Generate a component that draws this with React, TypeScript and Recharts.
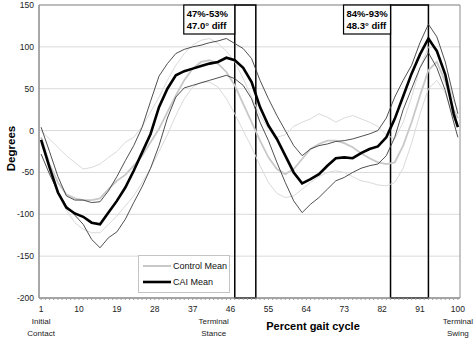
import { LineChart, Line, XAxis, YAxis, CartesianGrid, ReferenceArea, ReferenceLine, Legend, Label } from 'recharts'

const FONT = 'Liberation Sans, Arial, Helvetica, sans-serif'

// percent of gait cycle at which values were read
const pct = [1, 3, 5, 7, 9, 11, 13, 15, 17, 19, 21, 23, 25, 27, 29, 31, 33, 35, 37, 39, 41, 43, 45, 47, 49, 51, 53, 55, 57, 59, 61, 63, 65, 67, 69, 71, 73, 75, 77, 79, 81, 83, 85, 87, 89, 91, 93, 95, 97, 99, 100]

const caiMean = [-11, -44, -74, -92, -99, -103, -110, -112, -98, -84, -68, -48, -26, -4, 28, 50, 66, 71, 74, 77, 80, 82, 87, 84, 75, 58, 28, 6, -10, -30, -50, -63, -58, -52, -42, -33, -32, -33, -27, -22, -19, -8, 14, 41, 68, 91, 110, 95, 67, 20, 4]
const caiUpper = [4, -25, -55, -78, -83, -83, -86, -85, -72, -55, -36, -18, 4, 35, 65, 80, 92, 97, 100, 102, 105, 107, 110, 104, 98, 86, 60, 38, 18, 0, -18, -30, -22, -18, -16, -13, -12, -10, -7, -4, 0, 15, 40, 60, 78, 105, 127, 112, 82, 40, 20]
const caiLower = [-28, -52, -73, -90, -101, -112, -130, -140, -128, -121, -106, -86, -67, -45, -18, 15, 40, 51, 54, 57, 60, 63, 66, 62, 54, 38, 10, -12, -38, -62, -84, -98, -88, -80, -70, -60, -56, -50, -45, -42, -40, -30, -8, 25, 50, 75, 93, 75, 48, 10, -8]

const controlMean = [-8, -40, -62, -76, -81, -83, -83, -81, -70, -60, -53, -42, -30, -14, 2, 22, 42, 60, 74, 82, 84, 80, 70, 54, 32, 10, -12, -32, -46, -52, -46, -34, -22, -16, -12, -12, -15, -20, -27, -33, -38, -40, -38, -18, 10, 42, 72, 82, 58, 25, 15]
const controlUpper = [0, -10, -20, -30, -38, -46, -44, -40, -32, -25, -14, -8, 5, 22, 40, 60, 78, 92, 102, 108, 110, 104, 95, 82, 62, 40, 18, 2, -8, -5, 5, 10, 14, 20, 16, 10, 15, 18, 14, 10, 5, -5, -10, 10, 40, 75, 100, 98, 70, 35, 25]
const controlLower = [-15, -45, -72, -95, -110, -118, -122, -122, -112, -102, -90, -78, -62, -45, -25, -5, 18, 38, 52, 58, 58, 52, 38, 20, 0, -20, -42, -62, -75, -80, -78, -70, -62, -55, -50, -48, -50, -55, -60, -62, -65, -66, -62, -45, -15, 20, 50, 60, 45, 15, 5]

const xTickLabels = [1, 10, 19, 28, 37, 46, 55, 64, 73, 82, 91, 100]
const xMinorTicks = Array.from({ length: 100 }, (_, i) => i + 1)
const yTicks = [-200, -150, -100, -50, 0, 50, 100, 150]

const windows = [
  { from: 47, to: 52, lines: ['47%-53%', '47.0° diff'], boxWidth: 51 },
  { from: 84, to: 93, lines: ['84%-93%', '48.3° diff'], boxWidth: 47 }
]

const phases = [
  { at: 1, lines: ['Initial', 'Contact'] },
  { at: 42, lines: ['Terminal', 'Stance'] },
  { at: 100, lines: ['Terminal', 'Swing'] }
]

const legendItems = [
  { name: 'Control Mean', color: '#c8c8c8', width: 2 },
  { name: 'CAI Mean', color: '#000', width: 2.6 }
]

const data = pct.map((p, i) => ({
  pct: p,
  caiMean: caiMean[i],
  caiUpper: caiUpper[i],
  caiLower: caiLower[i],
  controlMean: controlMean[i],
  controlUpper: controlUpper[i],
  controlLower: controlLower[i]
}))

function XTick(props: any) {
  const { x, y, payload } = props
  if (!xTickLabels.includes(payload.value)) return <g />
  return (
    <text x={x} y={y} dy="0.71em" textAnchor="middle" fontSize={8.5} fill="#222" fontFamily={FONT}>
      {payload.value}
    </text>
  )
}

function WindowNote(props: any) {
  const vb = props.viewBox ?? props
  const { lines, boxWidth } = props
  const left = vb.x - boxWidth
  return (
    <g>
      <rect x={left} y={vb.y} width={boxWidth} height={29} fill="#fff" stroke="#000" strokeWidth={1.2} />
      {lines.map((t: string, k: number) => (
        <text key={k} x={left + 3} y={vb.y + 11.5 + k * 12.5} fontSize={9.5} fontWeight="bold" fill="#000" fontFamily={FONT}>
          {t}
        </text>
      ))}
    </g>
  )
}

function PhaseNote(props: any) {
  const vb = props.viewBox ?? props
  const { lines } = props
  return (
    <g>
      {lines.map((t: string, k: number) => (
        <text key={k} x={vb.x} y={vb.y + vb.height + 26 + k * 12} textAnchor="middle" fontSize={8} fill="#222" fontFamily={FONT}>
          {t}
        </text>
      ))}
    </g>
  )
}

function LegendBox() {
  return (
    <div style={{ border: '1px solid #c4c4c4', background: '#fff', padding: '2px 4px', fontFamily: FONT, fontSize: 9, color: '#111', boxSizing: 'border-box', width: 92, whiteSpace: 'nowrap' }}>
      {legendItems.map((it) => (
        <div key={it.name} style={{ display: 'flex', alignItems: 'center', height: 16 }}>
          <svg width={28} height={6} style={{ marginRight: 2, flexShrink: 0 }}>
            <line x1={0} y1={3} x2={28} y2={3} stroke={it.color} strokeWidth={it.width} />
          </svg>
          <span>{it.name}</span>
        </div>
      ))}
    </div>
  )
}

export default function App() {
  return (
    <div>
      <style>{'body{margin:0}'}</style>
      <LineChart width={474} height={342} data={data} margin={{ top: 5, right: 14, bottom: 0, left: 0 }} style={{ fontFamily: FONT }}>
        <CartesianGrid vertical={false} stroke="#dadada" />
        <XAxis
          dataKey="pct"
          type="number"
          domain={[0.5, 100.5]}
          ticks={xMinorTicks}
          interval={0}
          tickSize={2}
          tickMargin={6}
          height={44}
          tick={<XTick />}
          axisLine={{ stroke: '#8c8c8c' }}
          tickLine={{ stroke: '#a0a0a0' }}
        >
          <Label
            content={(p: any) => (
              <text x={p.viewBox.x + 274} y={p.viewBox.y + 32} textAnchor="middle" fontSize={11} fontWeight="bold" fill="#000" fontFamily={FONT}>
                Percent gait cycle
              </text>
            )}
          />
        </XAxis>
        <YAxis
          type="number"
          domain={[-200, 150]}
          ticks={yTicks}
          interval={0}
          width={39}
          tickSize={3}
          tickMargin={2}
          tickLine={false}
          axisLine={{ stroke: '#8c8c8c' }}
          tick={{ fontSize: 8.5, fill: '#222', fontFamily: FONT }}
        >
          <Label
            content={(p: any) => {
              const cx = 11
              const cy = p.viewBox.y + p.viewBox.height / 2 - 3
              return (
                <text x={cx} y={cy} transform={`rotate(-90 ${cx} ${cy})`} textAnchor="middle" dominantBaseline="central" fontSize={11.5} fontWeight="bold" fill="#000" fontFamily={FONT}>
                  Degrees
                </text>
              )
            }}
          />
        </YAxis>
        <ReferenceArea x1={0.5} x2={100.5} y1={-200} y2={150} fill="none" stroke="#8c8c8c" />

        <Line dataKey="controlUpper" stroke="#dadada" strokeWidth={1} dot={false} legendType="none" isAnimationActive={false} />
        <Line dataKey="controlLower" stroke="#dadada" strokeWidth={1} dot={false} legendType="none" isAnimationActive={false} />
        <Line dataKey="controlMean" name="Control Mean" stroke="#c8c8c8" strokeWidth={1.8} dot={false} isAnimationActive={false} />
        <Line dataKey="caiUpper" stroke="#3c3c3c" strokeWidth={0.9} dot={false} legendType="none" isAnimationActive={false} />
        <Line dataKey="caiLower" stroke="#3c3c3c" strokeWidth={0.9} dot={false} legendType="none" isAnimationActive={false} />
        <Line dataKey="caiMean" name="CAI Mean" stroke="#000" strokeWidth={2.6} dot={false} isAnimationActive={false} />

        {windows.map((w) => (
          <ReferenceArea
            key={w.from}
            x1={w.from}
            x2={w.to}
            y1={-200}
            y2={150}
            fill="none"
            stroke="#000"
            strokeWidth={1.5}
            label={(p: any) => <WindowNote {...p} lines={w.lines} boxWidth={w.boxWidth} />}
          />
        ))}
        {phases.map((ph) => (
          <ReferenceLine key={ph.at} x={ph.at} stroke="none" label={(p: any) => <PhaseNote {...p} lines={ph.lines} />} />
        ))}
        <Legend
          layout="vertical"
          align="center"
          verticalAlign="middle"
          content={() => <LegendBox />}
          wrapperStyle={{ left: 138, top: 255, width: 92 }}
        />
      </LineChart>
    </div>
  )
}
